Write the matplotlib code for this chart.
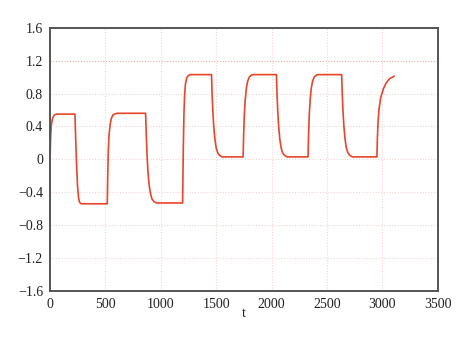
import matplotlib
matplotlib.use("Agg")
import matplotlib.pyplot as plt

# Data (t, response)
t = [0, 5, 12, 25, 40, 60,
     225, 233, 241, 249, 257, 266, 281,
     517, 521, 526, 533, 542, 554, 569, 592, 607,
     863, 869, 876, 884, 894, 906, 920, 939, 964,
     1197, 1200, 1204, 1209, 1215, 1223, 1234, 1249, 1267,
     1458, 1463, 1470, 1478, 1488, 1500, 1514, 1530, 1553,
     1743, 1748, 1754, 1762, 1772, 1784, 1799, 1819, 1839,
     2044, 2049, 2056, 2064, 2074, 2086, 2100, 2116, 2139,
     2329, 2334, 2340, 2348, 2358, 2370, 2385, 2405, 2425,
     2633, 2638, 2645, 2653, 2663, 2675, 2689, 2705, 2728,
     2951, 2955, 2961, 2969, 2985, 3010, 3035, 3065, 3105]
y = [0.0, 0.25, 0.42, 0.51, 0.54, 0.55,
     0.55, 0.2, -0.1, -0.33, -0.46, -0.52, -0.54,
     -0.54, -0.2, 0.1, 0.3, 0.42, 0.5, 0.54, 0.555, 0.56,
     0.56, 0.3, 0.05, -0.15, -0.3, -0.41, -0.48, -0.515, -0.53,
     -0.53, -0.2, 0.2, 0.55, 0.78, 0.92, 0.99, 1.02, 1.03,
     1.03, 0.8, 0.58, 0.4, 0.25, 0.14, 0.08, 0.05, 0.03,
     0.03, 0.3, 0.53, 0.72, 0.86, 0.95, 1.0, 1.025, 1.03,
     1.03, 0.8, 0.58, 0.4, 0.25, 0.14, 0.08, 0.05, 0.03,
     0.03, 0.3, 0.53, 0.72, 0.86, 0.95, 1.0, 1.025, 1.03,
     1.03, 0.8, 0.58, 0.4, 0.25, 0.14, 0.08, 0.05, 0.03,
     0.03, 0.25, 0.45, 0.6, 0.75, 0.86, 0.93, 0.98, 1.01]

xticks = [0, 500, 1000, 1500, 2000, 2500, 3000, 3500]
xticklabels = ['0', '500', '1000', '1500', '2000', '2500', '3000', '3500']
yticks = [-1.6, -1.2, -0.8, -0.4, 0, 0.4, 0.8, 1.2, 1.6]
yticklabels = ['\u22121.6', '\u22121.2', '\u22120.8', '\u22120.4', '0', '0.4', '0.8', '1.2', '1.6']

plt.rcParams['font.family'] = ['Liberation Serif', 'DejaVu Serif']

fig = plt.figure(figsize=(4.74, 3.39), dpi=100)
ax = fig.add_axes([0.1055, 0.1416, 0.818, 0.7766])

ax.plot(t, y, color='#e8452a', lw=1.2)

ax.set_xlim(0, 3500)
ax.set_ylim(-1.6, 1.6)
ax.set_xticks(xticks)
ax.set_xticklabels(xticklabels)
ax.set_yticks(yticks)
ax.set_yticklabels(yticklabels)
ax.tick_params(length=0, labelsize=10, colors='#222222', pad=5)

ax.grid(True, color='#eed8d2', linestyle=(0, (1, 1.5)), linewidth=0.8)
ax.set_axisbelow(True)
# the 1.2 gridline shows more strongly in the reference
ygl = ax.get_ygridlines()
ygl[yticks.index(1.2)].set_color('#dcb0a8')

for s in ax.spines.values():
    s.set_color('#555555')
    s.set_linewidth(1.4)

ax.set_xlabel('t', fontsize=10, color='#222222', labelpad=-3)

fig.savefig('out.png', dpi=100)
